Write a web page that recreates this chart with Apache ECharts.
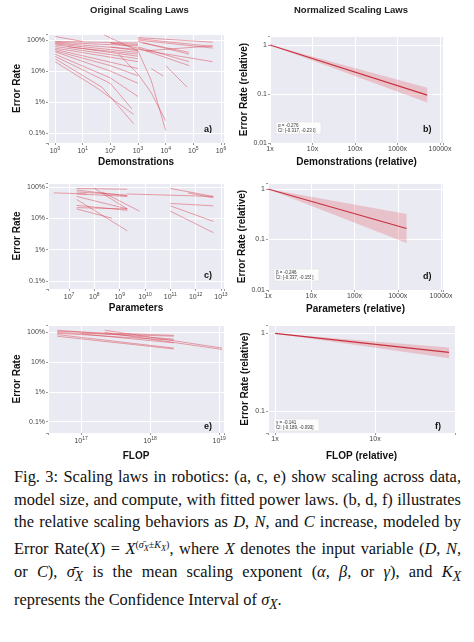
<!DOCTYPE html>
<html>
<head>
<meta charset="utf-8">
<script src="https://cdn.jsdelivr.net/npm/echarts@6/dist/echarts.min.js"></script>
<style>
body{margin:0;background:#fff;}
#chart{position:absolute;left:0;top:0;width:474px;height:462px;}
#cap{position:absolute;left:14px;top:466px;width:447px;font-family:"Liberation Serif",serif;font-size:16.4px;line-height:22.7px;text-align:justify;color:#111;}
#cap i{font-style:italic;}
</style>
</head>
<body>
<div id="chart"></div>
<div id="cap">Fig. 3: Scaling laws in robotics: (a, c, e) show scaling across data, model size, and compute, with fitted power laws. (b, d, f) illustrates the relative scaling behaviors as <i>D</i>, <i>N</i>, and <i>C</i> increase, modeled by Error Rate(<i>X</i>) = <i>X</i><sup style="font-size:10px">(<i>σ̄<sub>X</sub></i>±<i>K<sub>X</sub></i>)</sup>, where <i>X</i> denotes the input variable (<i>D</i>, <i>N</i>, or <i>C</i>), <i>σ̄<sub>X</sub></i> is the mean scaling exponent (<i>α</i>, <i>β</i>, or <i>γ</i>), and <i>K<sub>X</sub></i> represents the Confidence Interval of <i>σ<sub>X</sub></i>.</div>
<script>
// fitted power laws per dataset (x, error rate as fraction)
var demoLines = [
  [[1,0.85],[1000,0.65]], [[1,0.8],[1000,0.5]], [[1,0.75],[1000,0.4]],
  [[1,0.7],[1000,0.3]], [[1,0.62],[1000,0.25]], [[1,0.55],[1000,0.2]],
  [[1,0.5],[1000,0.12]], [[1,0.45],[100,0.15],[1000,0.07]], [[1,0.42],[100,0.1],[1000,0.04]],
  [[1,0.35],[100,0.06],[1000,0.015]], [[1,0.3],[100,0.04],[600,0.006]],
  [[1,0.25],[50,0.03],[700,0.002]], [[1,0.2],[30,0.03],[700,0.004]],
  [[1,1.3],[10,0.9]], [[1,0.9],[1000,0.8]], [[3,0.6],[1000,0.35]],
  [[100,0.78],[1000,0.72]], [[100,0.82],[1000,0.55]], [[100,0.6],[1000,0.45]],
  [[60,1.45],[1000,0.45],[3000,0.05],[10000,0.0012]], [[200,0.35],[1000,0.08],[3000,0.02],[10000,0.0025]],
  [[1000,1.2],[500000,0.85]], [[1000,1.1],[500000,0.62]], [[1000,1.0],[500000,0.55]],
  [[1000,0.9],[70000,0.35]], [[1000,0.6],[70000,0.2]], [[1000,0.55],[70000,0.15]],
  [[1000,0.5],[500000,0.2]], [[2000,0.45],[500000,0.65]], [[1500,0.8],[70000,0.4]],
  [[3000,0.12],[8000,0.07]], [[10000,0.15],[60000,0.03]]
];
var paramLines = [
  [[2.5e6,0.65],[5e7,0.6]], [[2e7,0.9],[2e9,0.85]], [[2e7,0.8],[2e9,0.52]],
  [[2e7,0.7],[2e9,0.55]], [[2e7,0.6],[2e9,0.5]], [[2e7,0.5],[2e9,0.2]],
  [[2e7,0.22],[2e9,0.2]], [[2e7,0.26],[2e9,0.18]], [[2e7,0.4],[2e9,0.04]],
  [[2e7,0.2],[5e8,0.1]], [[1e8,0.9],[2e9,0.2]], [[2e8,0.7],[6e9,0.17]],
  [[2e9,0.6],[5e12,0.5]], [[1e11,0.9],[5e12,0.5]], [[1e11,0.3],[5e12,0.25]],
  [[1e11,0.25],[5e12,0.08]], [[1e11,0.17],[5e12,0.035]], [[5e11,0.65],[5e12,0.45]]
];
var flopLines = [
  [[4.5e16,1.2],[2.2e18,0.6]], [[4.5e16,1.1],[2.2e18,0.8]], [[4.5e16,1.0],[2.2e18,0.75]],
  [[4.5e16,0.95],[2.2e18,0.55]], [[4.5e16,0.85],[2.2e18,0.3]], [[4.5e16,0.75],[2.2e18,0.28]],
  [[2.2e17,1.2],[1.1e19,0.3]], [[2.2e17,1.0],[1.1e19,0.27]], [[1e17,0.9],[2.2e18,0.45]]
];
// normalized fits: x range, mean, lower and upper CI ends
var demoFitX = [1, 5000], demoFitMean = [1, 0.095], demoFitLow = [1, 0.067], demoFitHigh = [1, 0.134];
var paramFitX = [1, 1600], paramFitMean = [1, 0.165], paramFitLow = [1, 0.085], paramFitHigh = [1, 0.32];
var flopFitX = [1, 55], flopFitMean = [1, 0.57], flopFitLow = [1, 0.48], flopFitHigh = [1, 0.66];
var fitNotes = [['α = -0.276','CI: [-0.317, -0.236]'],['β = -0.246','CI: [-0.337, -0.155]'],['γ = -0.141','CI: [-0.189, -0.093]']];
var origYTicks = {1:'100%',0.1:'10%',0.01:'1%',0.001:'0.1%'};

var chart = echarts.init(document.getElementById('chart'));
var P = Math.pow;
var grids = [
  {left:48,top:34,width:176,height:109},{left:270,top:36,width:173,height:107},
  {left:48,top:183,width:176,height:106},{left:268,top:183,width:175,height:107},
  {left:48,top:325,width:176,height:115},{left:268,top:325,width:187,height:115}
];
grids.forEach(function(g){g.show=true;g.backgroundColor='#eaeaf2';g.borderWidth=0;});
var lbl = {fontSize:7,color:'#444',fontFamily:'Liberation Sans'};
var nameSt = {fontSize:10,fontWeight:'bold',color:'#111',fontFamily:'Liberation Sans'};
function isPow(v){var e=Math.log10(v);return Math.abs(e-Math.round(e))<1e-6;}
function powFmt(v){if(!isPow(v))return '';return '10{s|'+Math.round(Math.log10(v))+'}';}
function relFmt(v){if(!isPow(v))return '';return Math.round(v)+'x';}
function relY(v){if(!isPow(v))return '';return String(+v.toPrecision(2));}
function pctY(v){if(!isPow(v))return '';return origYTicks[+v.toPrecision(2)]||'';}
function xAx(i,min,max,name,fmt,gap){
  return {type:'log',gridIndex:i,min:min,max:max,name:name,nameLocation:'middle',nameGap:gap,nameTextStyle:nameSt,
    axisLine:{show:false},axisTick:{show:true,length:2,lineStyle:{color:'#999'}},
    splitLine:{show:true,lineStyle:{color:'#fff'}},
    axisLabel:Object.assign({formatter:fmt,margin:3,rich:{s:{fontSize:5,padding:[0,0,6,0],color:'#444'}}},lbl)};
}
function yAx(i,min,max,name,fmt,gap){
  return {type:'log',gridIndex:i,min:min,max:max,name:name,nameLocation:'middle',nameGap:gap,nameTextStyle:nameSt,
    axisLine:{show:false},axisTick:{show:true,length:2,lineStyle:{color:'#999'}},
    splitLine:{show:true,lineStyle:{color:'#fff'}},
    axisLabel:Object.assign({formatter:fmt,margin:3},lbl)};
}
var xAxis = [
  xAx(0,P(10,-0.253),P(10,6.108),'Demonstrations',powFmt,14),
  xAx(1,1,P(10,4.07),'Demonstrations (relative)',relFmt,14),
  xAx(2,P(10,6.17),P(10,13.12),'Parameters',powFmt,14),
  xAx(3,1,P(10,4.046),'Parameters (relative)',relFmt,14),
  xAx(4,P(10,16.52),P(10,19.07),'FLOP',powFmt,18),
  xAx(5,P(10,-0.07),P(10,1.8),'FLOP (relative)',relFmt,18)
];
var yAxis = [
  yAx(0,P(10,-3.32),P(10,0.194),'Error Rate',pctY,26),
  yAx(1,0.01,P(10,0.184),'Error Rate (relative)',relY,18),
  yAx(2,P(10,-3.255),P(10,0.128),'Error Rate',pctY,26),
  yAx(3,0.01,P(10,0.119),'Error Rate (relative)',relY,18),
  yAx(4,P(10,-3.379),P(10,0.253),'Error Rate',pctY,26),
  yAx(5,P(10,-1.277),P(10,0.108),'Error Rate (relative)',relY,18)
];
var series = [];
function addLines(lines,idx){
  lines.forEach(function(pts){
    series.push({type:'line',xAxisIndex:idx,yAxisIndex:idx,data:pts,showSymbol:false,silent:true,
      lineStyle:{width:0.9,color:'rgba(214,55,70,0.5)'}});
  });
}
addLines(demoLines,0); addLines(paramLines,2); addLines(flopLines,4);
function addFit(idx,xs,mean,lo,hi){
  // confidence band as one polygon through the data's coordinates
  series.push({type:'custom',xAxisIndex:idx,yAxisIndex:idx,silent:true,
    data:[0],
    renderItem:function(params,api){
      var pts=[];
      xs.forEach(function(x,k){pts.push(api.coord([x,hi[k]]));});
      for(var k=xs.length-1;k>=0;k--)pts.push(api.coord([xs[k],lo[k]]));
      return {type:'polygon',shape:{points:pts},style:{fill:'rgba(225,90,100,0.28)'}};
    }});
  series.push({type:'line',xAxisIndex:idx,yAxisIndex:idx,showSymbol:false,silent:true,
    data:xs.map(function(x,k){return [x,mean[k]];}),lineStyle:{width:1.2,color:'#c8323f'}});
}
addFit(1,demoFitX,demoFitMean,demoFitLow,demoFitHigh);
addFit(3,paramFitX,paramFitMean,paramFitLow,paramFitHigh);
addFit(5,flopFitX,flopFitMean,flopFitLow,flopFitHigh);

var graphic = [
  {type:'text',x:90,y:5,style:{text:'Original Scaling Laws',font:'bold 9.5px Liberation Sans',fill:'#222'}},
  {type:'text',x:294,y:5,style:{text:'Normalized Scaling Laws',font:'bold 9.5px Liberation Sans',fill:'#222'}}
];
var labs = ['a)','b)','c)','d)','e)','f)'];
grids.forEach(function(g,i){
  graphic.push({type:'text',x:g.left+g.width-20,y:g.top+g.height-18,
    style:{text:labs[i],font:'bold 9px Liberation Sans',fill:'#111'}});
});
[1,3,5].forEach(function(gi,k){
  var g=grids[gi];
  graphic.push({type:'rect',shape:{x:g.left+6,y:g.top+g.height-21,width:45,height:12},
    style:{fill:'rgba(255,255,255,0.85)',stroke:'#ddd',lineWidth:0.5}});
  graphic.push({type:'text',x:g.left+8,y:g.top+g.height-20,
    style:{text:fitNotes[k].join('\n'),font:'4.5px Liberation Sans',fill:'#333',lineHeight:5}});
});

chart.setOption({animation:false,grid:grids,xAxis:xAxis,yAxis:yAxis,series:series,graphic:graphic});
</script>
</body>
</html>
